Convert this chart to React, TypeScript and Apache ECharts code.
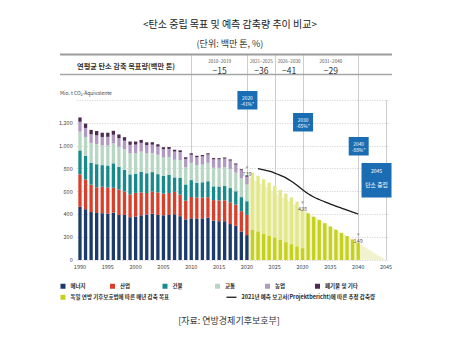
import React, { useEffect, useRef } from "react";
import * as echarts from "echarts";

const years = [
  "1990","1991","1992","1993","1994","1995","1996","1997","1998","1999",
  "2000","2001","2002","2003","2004","2005","2006","2007","2008","2009",
  "2010","2011","2012","2013","2014","2015","2016","2017","2018","2019",
  "2020","2021","2022","2023","2024","2025","2026","2027","2028","2029",
  "2030","2031","2032","2033","2034","2035","2036","2037","2038","2039",
  "2040","2041","2042","2043","2044","2045",
];

// 1990-2020 sector emissions (Mio. t CO2-eq)
const energy = [466,445,420,412,410,405,415,395,395,375,380,392,397,406,395,392,395,401,384,356,365,360,365,370,345,340,340,315,300,250,218];
const industry = [284,261,240,225,232,229,218,222,205,200,208,200,190,194,197,190,192,196,189,164,187,187,182,180,180,182,183,190,185,178,177];
const buildings = [210,206,192,202,189,194,214,200,190,175,167,181,173,170,160,156,158,127,147,142,148,128,134,140,120,122,125,125,117,123,120];
const transport = [164,166,174,177,172,175,174,175,179,184,181,177,174,168,170,161,158,154,154,152,152,155,155,161,163,163,166,168,163,164,146];
const agriculture = [87,79,76,76,75,76,76,75,76,75,75,76,73,72,72,71,70,72,72,72,70,71,72,73,74,75,74,73,71,71,69];
const waste = [38,38,38,38,37,36,35,33,31,29,27,26,24,22,20,18,17,16,15,14,13,12,12,11,11,10,10,10,10,9,9];

// 2021-2040 annual targets (bright part)
const targetYears = ["2021","2022","2023","2024","2025","2026","2027","2028","2029","2030","2031","2032","2033","2034","2035","2036","2037","2038","2039","2040"];
const targetValues = [263,248,228,210,195,175,155,137,117,102,409,378,350,322,293,265,238,210,180,150];
// 2021-2030 pale bar tops
const paleYears = ["2021","2022","2023","2024","2025","2026","2027","2028","2029","2030"];
const paleValues = [765,738,708,678,648,615,582,548,512,438];
// pale target area
const areaYears = ["2020","2045"];
const areaValues = [739,0];
// projection line (Projektbericht 2021)
const projYears = ["2022","2023","2024","2025","2026","2027","2028","2029","2030","2031","2032","2033","2034","2035","2036","2037","2038","2039","2040"];
const projValues = [800,790,778,762,742,720,690,655,615,580,552,530,510,490,472,455,437,420,403];
// marked values
const markYears = ["2020","2030","2040"];
const markValues = [739,438,149];

// header table
const headerPeriods = ["2010–2019","2021–2025","2026–2030","2031–2040"];
const headerValues = ["−15","−36","−41","−29"];
const dividerYears = ["2010","2020","2025","2030","2040"];
const plotLineYears = ["2010","2020","2025","2030","2040","2045"];

// callout boxes
const boxYears = ["2020","2030","2040"];
const boxTexts = ["-41%*","-65%*","-88%*"];

const sectorNames = ["에너지","산업","건물","교통","농업","폐기물 및 기타"];
const sectorColors = ["#1c3a6a","#d8402c","#178a8c","#b7d7c3","#b09ac2","#4c2b50"];
const targetName = "독일 연방 기후보호법에 따른 매년 감축 목표";
const projName = "2021년 예측 보고서(Projektbericht)에 따른 추정 감축량";

const FONT = "'Noto Sans CJK KR', 'Noto Sans', sans-serif";

function byYear(ys: string[], vs: number[]) {
  return years.map((y) => {
    const i = ys.indexOf(y);
    return i >= 0 ? vs[i] : "-";
  });
}

export default function App() {
  const ref = useRef<HTMLDivElement>(null);
  useEffect(() => {
    const chart = echarts.init(ref.current!, null, { renderer: "svg" });
    const histYears = years.slice(0, 31);
    const sectors = [energy, industry, buildings, transport, agriculture, waste];

    const series: any[] = [];
    series.push({
      name: "area",
      type: "line",
      z: 1,
      data: byYear(areaYears, areaValues),
      connectNulls: true,
      symbol: "none",
      lineStyle: { width: 0 },
      areaStyle: { color: "#f1f3cf", opacity: 1 },
      silent: true,
    });
    sectors.forEach((arr, k) => {
      series.push({
        name: sectorNames[k],
        type: "bar",
        stack: "hist",
        z: 3,
        data: byYear(histYears, arr),
        itemStyle: { color: sectorColors[k] },
        barWidth: 3.3,
        barGap: "-100%",
      });
    });
    series.push({
      name: "pale",
      type: "bar",
      z: 3,
      data: byYear(paleYears, paleValues),
      itemStyle: { color: "#e3e887" },
      barWidth: 3.3,
      barGap: "-100%",
    });
    series.push({
      name: targetName,
      type: "bar",
      z: 4,
      data: byYear(targetYears, targetValues),
      itemStyle: { color: "#c6d11c" },
      barWidth: 3.3,
      barGap: "-100%",
    });
    series.push({
      name: projName,
      type: "line",
      data: byYear(projYears, projValues),
      smooth: 0.35,
      symbol: "none",
      lineStyle: { color: "#1a1a1a", width: 1.3 },
      itemStyle: { color: "#1a1a1a" },
      z: 5,
    });
    series.push({
      name: "marks",
      type: "scatter",
      data: markYears.map((y, i) => [y, markValues[i]]),
      symbolSize: 0,
      z: 6,
      label: {
        show: true,
        position: "top",
        distance: -2,
        formatter: (p: any) => `{a|▼}\n{b|${p.value[1]}}`,
        rich: {
          a: { fontSize: 3, color: "#888", lineHeight: 5 },
          b: { fontSize: 5.5, color: "#333", lineHeight: 7, fontFamily: FONT },
        },
      },
    });

    const legendPos: [string, number, number][] = [
      [sectorNames[0], 60.5, 283.5],
      [sectorNames[1], 110, 283.5],
      [sectorNames[2], 162.5, 283.5],
      [sectorNames[3], 215, 283.5],
      [sectorNames[4], 265, 283.5],
      [sectorNames[5], 315, 283.5],
      [targetName, 60.5, 294.5],
    ];
    const legendText = { fontSize: 5.5, color: "#2a2a2a", fontWeight: "bold" as const, fontFamily: FONT };
    const legends: any[] = legendPos.map(([n, l, t]) => ({
      data: [n],
      left: l,
      top: t,
      padding: 0,
      itemWidth: 5,
      itemHeight: 5,
      icon: "rect",
      selectedMode: false,
      textStyle: legendText,
    }));
    legends.push({
      data: [projName],
      left: 226.5,
      top: 294.5,
      padding: 0,
      itemWidth: 10,
      itemHeight: 1.3,
      icon: "rect",
      selectedMode: false,
      textStyle: legendText,
    });

    chart.setOption({
      animation: false,
      backgroundColor: "#ffffff",
      textStyle: { fontFamily: FONT },
      grid: { left: 77.2, right: 85.2, top: 100.2, bottom: 87, containLabel: false },
      legend: legends,
      xAxis: {
        type: "category",
        data: years,
        axisLine: { show: false },
        axisTick: { show: false },
        axisLabel: { interval: 4, fontSize: 5.5, color: "#444", margin: 4 },
        splitLine: { show: false },
      },
      yAxis: {
        type: "value",
        min: 0,
        max: 1400,
        interval: 200,
        axisLine: { show: false },
        axisTick: { show: false },
        axisLabel: {
          fontSize: 5.5,
          color: "#444",
          margin: 4.5,
          formatter: (v: number) => (v >= 1400 ? "" : v >= 1000 ? `${Math.floor(v / 1000)}.${String(v % 1000).padStart(3, "0")}` : String(v)),
        },
        splitLine: { lineStyle: { color: "#c4c4c4", type: [1, 1.5], width: 0.8 } },
      },
      series,
    });

    const px = (y: string) => (chart.convertToPixel({ xAxisIndex: 0 } as any, years.indexOf(y)) as unknown) as number;
    const py = (v: number) => (chart.convertToPixel({ yAxisIndex: 0 } as any, v) as unknown) as number;
    const yTop = py(1400);
    const yBottom = py(0);

    const g: any[] = [];
    plotLineYears.forEach((y) => {
      const x = Math.round(px(y)) + 0.5;
      const inHeader = dividerYears.indexOf(y) >= 0;
      g.push({
        type: "line",
        z: 0,
        silent: true,
        shape: { x1: x, y1: inHeader ? 55 : yTop, x2: x, y2: yBottom },
        style: { stroke: "#cdcdcd", lineWidth: 1 },
      });
    });
    g.push({ type: "line", z: 1, shape: { x1: 60, y1: 54.5, x2: 392, y2: 54.5 }, style: { stroke: "#9c9c9c", lineWidth: 2 } });
    g.push({ type: "line", z: 1, shape: { x1: 60, y1: 74.5, x2: 392, y2: 74.5 }, style: { stroke: "#a6a6a6", lineWidth: 1.5 } });
    g.push({
      type: "text",
      z: 3,
      style: { x: 126, y: 65.5, text: "연평균 탄소 감축 목표량(백만 톤)", textAlign: "center", textVerticalAlign: "middle", fontSize: 7.2, fontWeight: "bold", fill: "#333", fontFamily: FONT },
    });
    const bounds = [px("2010"), px("2020"), px("2025"), px("2030"), px("2040")];
    headerPeriods.forEach((t, i) => {
      const cx = (bounds[i] + bounds[i + 1]) / 2 + 0.5;
      g.push({ type: "text", z: 3, style: { x: cx, y: 60.5, text: t, textAlign: "center", textVerticalAlign: "middle", fontSize: 4.6, fill: "#555", fontFamily: FONT } });
      g.push({ type: "text", z: 3, style: { x: cx, y: 69.5, text: headerValues[i], textAlign: "center", textVerticalAlign: "middle", fontSize: 8.5, fill: "#333", fontFamily: FONT } });
    });
    g.push({ type: "text", z: 3, style: { x: 60, y: 92, text: "Mio. t CO₂-Äquivalente", textAlign: "left", textVerticalAlign: "middle", fontSize: 5, fill: "#444", fontFamily: FONT } });
    const boxTops = [91, 113, 137];
    boxYears.forEach((y, i) => {
      const cx = px(y) + 0.5;
      const top = boxTops[i];
      g.push({ type: "rect", z: 4, shape: { x: cx - 10, y: top, width: 20, height: 18.5 }, style: { fill: "#1b6db3" } });
      g.push({ type: "text", z: 5, style: { x: cx, y: top + 6, text: y, textAlign: "center", textVerticalAlign: "middle", fontSize: 4.8, fill: "#fff", fontFamily: FONT } });
      g.push({ type: "text", z: 5, style: { x: cx, y: top + 12.5, text: boxTexts[i], textAlign: "center", textVerticalAlign: "middle", fontSize: 4.8, fill: "#fff", fontFamily: FONT } });
    });
    const x45 = px("2045");
    g.push({ type: "rect", z: 4, shape: { x: x45 - 24.5, y: 163, width: 30, height: 34.5 }, style: { fill: "#1b6db3" } });
    g.push({ type: "text", z: 5, style: { x: x45 - 9.5, y: 170.5, text: "2045", textAlign: "center", textVerticalAlign: "middle", fontSize: 5, fill: "#fff", fontFamily: FONT } });
    g.push({ type: "text", z: 5, style: { x: x45 - 9.5, y: 184, text: "탄소 중립", textAlign: "center", textVerticalAlign: "middle", fontSize: 5.8, fill: "#fff", fontFamily: FONT } });
    g.push({ type: "text", z: 3, style: { x: 230, y: 23.5, text: "<탄소 중립 목표 및 예측 감축량 추이 비교>", textAlign: "center", textVerticalAlign: "middle", fontSize: 10, fill: "#222", fontFamily: FONT } });
    g.push({ type: "text", z: 3, style: { x: 230, y: 43, text: "(단위: 백만 톤, %)", textAlign: "center", textVerticalAlign: "middle", fontSize: 9, fill: "#333", fontFamily: FONT } });
    g.push({ type: "text", z: 3, style: { x: 229, y: 320.5, text: "[자료: 연방경제기후보호부]", textAlign: "center", textVerticalAlign: "middle", fontSize: 9, fill: "#333", fontFamily: FONT } });

    chart.setOption({ graphic: g });
    return () => chart.dispose();
  }, []);
  return (
    <div
      ref={ref}
      style={{ position: "fixed", left: 0, top: 0, width: 474, height: 347, background: "#fff" }}
    />
  );
}
